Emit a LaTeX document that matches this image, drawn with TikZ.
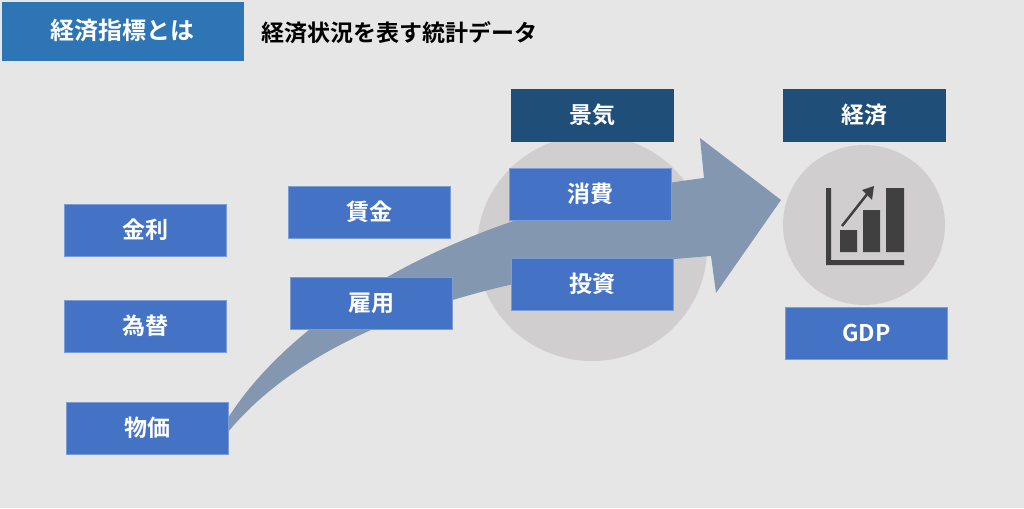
\documentclass[tikz,border=0pt]{standalone}
\usepackage{fontspec}
\usetikzlibrary{shapes.geometric}
\setmainfont{Noto Sans CJK JP}[BoldFont={Noto Sans CJK JP Bold}]
\begin{document}
\begin{tikzpicture}[x=1pt,y=-1pt,
 box/.style={fill=bl,draw=bl!70!white,line width=0.8pt,text=white,font=\fontsize{23}{23}\selectfont\bfseries,inner sep=0pt},
 dbox/.style={box,fill=db,draw=db}]
\definecolor{bg}{HTML}{E7E6E6}
\definecolor{bl}{HTML}{4472C4}
\definecolor{db}{HTML}{1F4E79}
\definecolor{tb}{HTML}{2E75B6}
\definecolor{ar}{HTML}{8497B0}
\definecolor{cg}{HTML}{D0CECE}
\definecolor{ic}{HTML}{404040}
\fill[bg] (0,0) rectangle (1024,508);
\useasboundingbox (0,0) rectangle (1024,508);
\node[box,fill=tb,draw=tb,minimum width=241pt,minimum height=58pt,font=\fontsize{24}{24}\selectfont\bfseries] (title) at (122.5,31) {経済指標とは};
\node[anchor=west,font=\fontsize{23}{23}\selectfont\bfseries] (sub) at (258,33) {経済状況を表す統計データ};
\fill[cg] (592,248) ellipse [x radius=115, y radius=113];
\node[fill=cg,ellipse,minimum width=162pt,minimum height=160pt,inner sep=0pt] (circ) at (864,225) {};
\fill[ar] (228,418) .. controls (290,320) and (450,210) .. (704,178) -- (700,138) -- (781,200) -- (716,293) -- (711,256) .. controls (450,275) and (300,345) .. (228,432) -- cycle;
\foreach \n/\t/\x/\y in {kinri/金利/145/230, kawase/為替/145/326, bukka/物価/147/428, chingin/賃金/369.5/212, koyo/雇用/371.5/303, shohi/消費/590.5/194, toshi/投資/592.5/284, gdp/GDP/866.5/333}
  \node[box,minimum width=162pt,minimum height=52pt] (\n) at (\x,\y) {\t};
\node[dbox,minimum width=162pt,minimum height=52pt] (keiki) at (592,115) {景気};
\node[dbox,minimum width=162pt,minimum height=52pt] (keizai) at (864,115) {経済};
% icon
\fill[ic] (826,188) rectangle (831,265) (826,260) rectangle (904,265);
\fill[ic] (840,230) rectangle (857,252) (863,210) rectangle (880,252) (886,188) rectangle (904,252);
\draw[ic,line width=2.5pt] (842,226) -- (868,193);
\fill[ic] (874,186) -- (862,190) -- (872,200) -- cycle;
\end{tikzpicture}
\end{document}
